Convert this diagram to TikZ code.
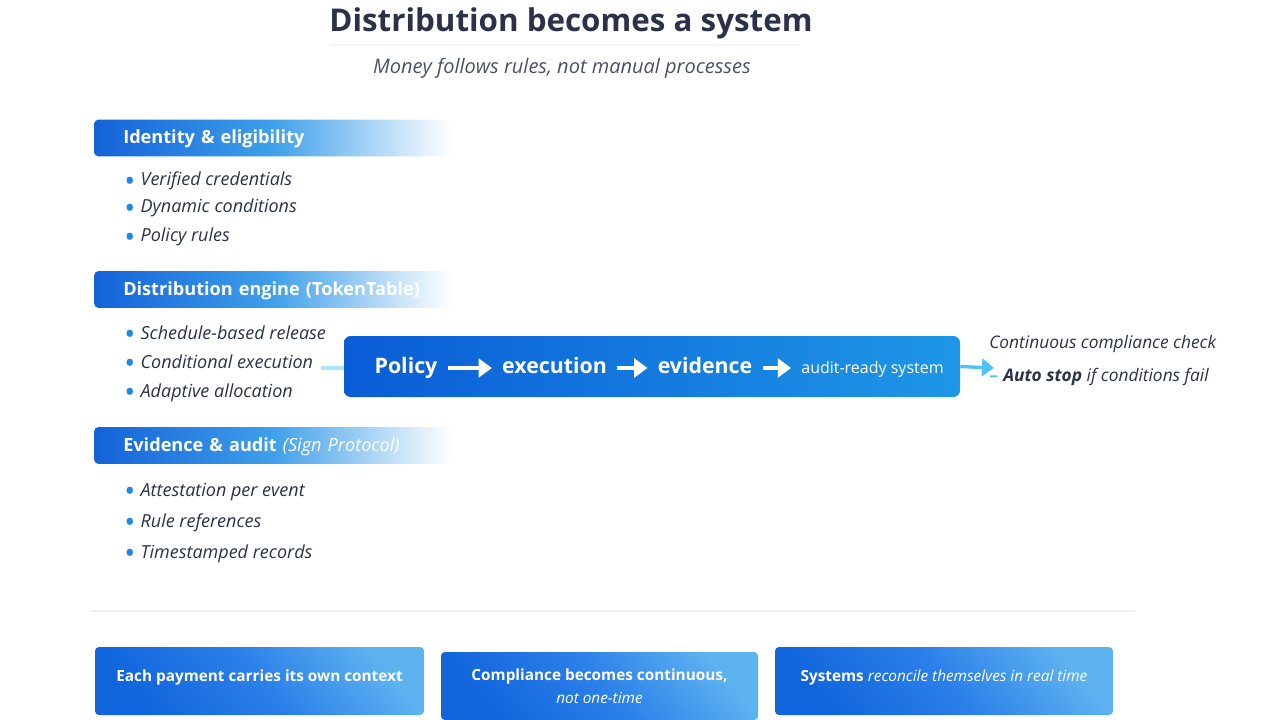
\documentclass[tikz,border=0pt]{standalone}
\usepackage{fontspec}
\setmainfont{Open Sans}
\usetikzlibrary{arrows.meta,positioning}
\definecolor{tinta}{HTML}{2B3148}
\definecolor{azul}{HTML}{1462D9}
\definecolor{cielo}{HTML}{62D2F6}
\definecolor{punto}{HTML}{1E88E5}
\definecolor{caja}{HTML}{0A5CD6}
\definecolor{cajader}{HTML}{1E97E6}
\definecolor{flecha}{HTML}{4FC3F7}
\definecolor{pieclaro}{HTML}{5DB2F0}
\definecolor{piemed}{HTML}{2A7FE8}
\definecolor{pieosc}{HTML}{1165DC}

\begin{document}
\begin{tikzpicture}[x=0.75pt,y=-0.75pt,>=Stealth,
  hdr/.style={anchor=west,minimum height=27.5pt,text width=224pt,inner xsep=21.75pt,rounded corners=3pt,
    text height=9.5pt,text depth=1pt,
    left color=azul,right color=white,middle color=azul!45!cielo,text=white,font=\bfseries\fontsize{13.6}{17}\selectfont},
  it/.style={anchor=base west,inner sep=0pt,text=tinta,font=\itshape\fontsize{13.5}{16}\selectfont},
  paso/.style={text=white,inner xsep=7.5pt,text height=11pt,text depth=3.5pt,font=\bfseries\fontsize{16}{19}\selectfont},
  wa/.style={->,white,line width=3pt,-{Triangle[length=10pt,width=14pt]}},
  pie/.style={minimum height=51pt,rounded corners=3pt,text=white,top color=pieclaro,bottom color=pieosc,
    middle color=piemed,shading angle=-50,font=\fontsize{11.5}{17}\selectfont,align=center}]
\useasboundingbox (0,0) rectangle (1280,720);
\newcommand{\pt}{\textcolor{punto}{\upshape\fontsize{22}{16}\selectfont\raisebox{-4.2pt}{\textbullet}}\hspace{4pt}}

% title
\node[text=tinta,font=\bfseries\fontsize{23.5}{28}\selectfont] (ti) at (571,23) {Distribution becomes a system};
\draw[gray!7,line width=1pt] (330,45) -- (800,45);
\node[text=tinta!85,font=\itshape\fontsize{15}{18}\selectfont] (st) at (562,68) {Money follows rules, not manual processes};

% left column
\node[hdr] (h1) at (94,138) {Identity \& eligibility};
\foreach \t/\y [count=\i] in {Verified credentials/186,Dynamic conditions/213,Policy rules/242}
  \node[it] (a\i) at (124,\y) {\pt\t};

\node[hdr] (h2) at (94,289.5) {Distribution engine (TokenTable)};
\foreach \t/\y [count=\i] in {Schedule-based release/339,Conditional execution/368,Adaptive allocation/397}
  \node[it] (b\i) at (124,\y) {\pt\t};

\node[hdr] (h3) at (94,445.5) {Evidence \& audit {\mdseries\itshape (Sign Protocol)}};
\foreach \t/\y [count=\i] in {Attestation per event/496,Rule references/527,Timestamped records/558}
  \node[it] (c\i) at (124,\y) {\pt\t};

% pipeline
\node[minimum width=462pt,minimum height=45.75pt,rounded corners=5pt,left color=caja,right color=cajader] (m) at (652,366.5) {};
\draw[flecha!45,line width=2.5pt,shorten <=6pt] (b2.base east) -- (b2.base east -| m.west);
\node[paso] (p) at (406,368) {Policy};
\node[paso] (e) at (554.5,368) {execution};
\node[paso] (v) at (705,368) {evidence};
\node[paso,font=\fontsize{12}{15}\selectfont] (s) at (872.5,368) {audit-ready system};
\draw[wa] (p) -- (e);
\draw[wa] (e) -- (v);
\draw[wa] (v) -- (s);

% right notes
\coordinate (t) at (994,368);
\draw[flecha,line width=2.5pt,-{Triangle[length=9pt,width=13pt]}] (m.east) -- (t);
\node[it,font=\itshape\fontsize{13}{16}\selectfont] (k1) at (989,348) {Continuous compliance check};
\node[it,font=\itshape\fontsize{13}{16}\selectfont] (k2) at (989,381) {\textcolor{flecha}{\upshape\bfseries--}\hspace{4pt}\textbf{Auto stop} if conditions fail};

% bottom
\draw[gray!12,line width=1.5pt] (90,611) -- (1135,611);
\node[pie,minimum width=246.75pt,text depth=8pt] (f1) at (259.5,681) {\bfseries Each payment carries its own context};
\node[pie,minimum width=237.75pt] (f2) at (599.5,686) {\bfseries Compliance becomes continuous,\\ \itshape not one-time};
\node[pie,minimum width=253.5pt,text depth=8pt] (f3) at (944,681) {\textbf{Systems} \itshape reconcile themselves in real time};
\end{tikzpicture}
\end{document}
